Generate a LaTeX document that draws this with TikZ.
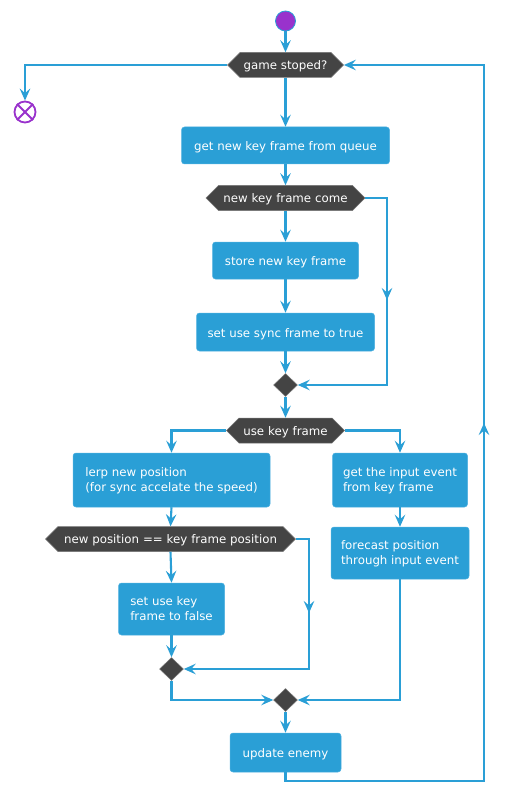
\documentclass[tikz,border=0pt]{standalone}
\usepackage{fontspec}
\setmainfont{DejaVu Sans}
\usetikzlibrary{arrows.meta,shapes.symbols,shapes.geometric}
\definecolor{lineblue}{HTML}{2A9FD6}
\definecolor{boxblue}{HTML}{2A9FD6}
\definecolor{boxedge}{HTML}{4DB0E0}
\definecolor{hexgray}{HTML}{444444}
\definecolor{hexedge}{HTML}{777777}
\definecolor{purp}{HTML}{9932CC}
\begin{document}
\begin{tikzpicture}[x=1pt,y=-1pt,
  font=\fontsize{11.8}{15}\selectfont,
  flow/.style={draw=lineblue, line width=2.1pt, -{Stealth[length=12pt,width=10.5pt,inset=4.5pt]}},
  act/.style={rectangle, rounded corners=3pt, fill=boxblue, draw=boxedge, line width=0.5pt, text=white, align=left, inner sep=0pt},
  one/.style={text height=10pt, text depth=0pt},
  two/.style={text height=26pt, text depth=4pt},
  hexa/.style={signal, signal to=west and east, signal pointer angle=90, fill=hexgray, draw=hexedge, line width=0.5pt, text=white, inner xsep=0pt, inner ysep=7.5pt, text height=9.5pt, text depth=0.5pt, align=center},
  merge/.style={diamond, fill=hexgray, draw=hexedge, line width=0.5pt, minimum width=24pt, minimum height=23pt, inner sep=0pt}
]
\fill[white] (0,0) rectangle (510,805);
\useasboundingbox (0,0) rectangle (510,805);

% start / end
\node[circle, fill=purp, draw=lineblue, line width=0.8pt, minimum size=20pt, inner sep=0pt] (start) at (285.5,21) {};
\node[circle, fill=white, draw=purp, line width=1.8pt, minimum size=21pt, inner sep=0pt] (endc) at (25,112) {};
\draw[purp, line width=1.8pt] (endc.north west) -- (endc.south east) (endc.north east) -- (endc.south west);

% hexagons
\node[hexa, text width=91pt] (h1) at (285.5,65) {game stoped?};
\node[hexa, text width=134pt] (h2) at (285.5,198) {new key frame come};
\node[hexa, text width=93pt] (h3) at (285.5,430.5) {use key frame};
\node[hexa, text width=225pt] (h4) at (170.5,539) {new position == key frame position};

% activities
\node[act, one, minimum width=208pt, minimum height=37pt] (b1) at (285.5,145.5) {get new key frame from queue};
\node[act, one, minimum width=146pt, minimum height=37pt] (b2) at (285.5,260.5) {store new key frame};
\node[act, one, minimum width=178pt, minimum height=38pt] (b3) at (285.5,332) {set use sync frame to true};
\node[act, two, minimum width=197pt, minimum height=54pt] (b4) at (171.5,480) {lerp new position\\(for sync accelate the speed)};
\node[act, two, minimum width=106pt, minimum height=52pt] (b5) at (171.5,609) {set use key\\frame to false};
\node[act, two, minimum width=135pt, minimum height=54pt] (b6) at (400,480) {get the input event\\from key frame};
\node[act, two, minimum width=138pt, minimum height=52pt] (b7) at (400,553) {forecast position\\through input event};
\node[act, one, minimum width=111pt, minimum height=39pt] (b8) at (285.5,752.5) {update enemy};

% merges
\node[merge] (d1) at (285.5,385) {};
\node[merge] (d2) at (171.5,669) {};
\node[merge] (d3) at (285.5,700) {};

% corner coordinates
\coordinate (c1) at (387,198);
\coordinate (c2) at (171.5,430.5);
\coordinate (c3) at (400,430.5);
\coordinate (c4) at (309,539);
\coordinate (c5) at (400,700);
\coordinate (c6) at (171.5,700);
\coordinate (c7) at (484,781);
\coordinate (m1a) at (387,284);
\coordinate (m1b) at (387,300);
\coordinate (m2a) at (309,597);
\coordinate (m2b) at (309,613);
\coordinate (m3a) at (484,439);
\coordinate (m3b) at (484,423);

% connectors
\draw[flow] (start) -- (h1.north);
\draw[flow] (h1.west) -| (endc.north);
\draw[flow] (h1.south) -- (b1.north);
\draw[flow] (b1.south) -- (h2.north);
\draw[flow] (h2.south) -- (b2.north);
\draw[flow] (b2.south) -- (b3.north);
\draw[flow] (b3.south) -- (d1.north);
\draw[flow] (h2.east) -- (c1) |- (d1.east);
\draw[flow] (m1a) -- (m1b);
\draw[flow] (d1.south) -- (h3.north);
\draw[flow] (h3.west) -- (c2) -- (b4.north);
\draw[flow] (b4.south) -- (h4.north);
\draw[flow] (h4.south) -- (b5.north);
\draw[flow] (b5.south) -- (d2.north);
\draw[flow] (h4.east) -- (c4) |- (d2.east);
\draw[flow] (m2a) -- (m2b);
\draw[flow] (h3.east) -- (c3) -- (b6.north);
\draw[flow] (b6.south) -- (b7.north);
\draw[flow] (b7.south) -- (c5) -- (d3.east);
\draw[flow] (d2.south) -- (c6) -- (d3.west);
\draw[flow] (d3.south) -- (b8.north);
\draw[flow] (b8.south) |- (c7) |- (h1.east);
\draw[flow] (m3a) -- (m3b);
\end{tikzpicture}
\end{document}
